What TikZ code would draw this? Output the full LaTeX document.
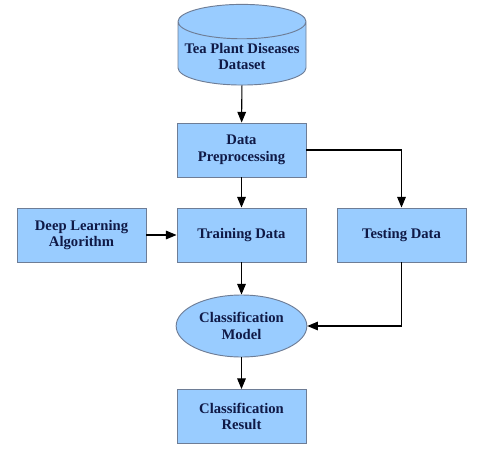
\documentclass[tikz,border=0pt]{standalone}
\usepackage{fontspec}
\setmainfont{Liberation Serif}
\newfontfamily\boxfont{Liberation Serif}
\usetikzlibrary{shapes.geometric,arrows.meta}
\definecolor{boxblue}{RGB}{153,204,255}
\definecolor{boxline}{RGB}{110,125,150}
\definecolor{textnavy}{RGB}{15,25,70}

\begin{document}
\begin{tikzpicture}
  [x=0.03cm,y=-0.03cm,>={Triangle[length=3.2mm,width=2.6mm]},
   font=\boxfont\fontsize{12.5}{14}\selectfont\bfseries]
      \tikzstyle{box_style} = [fill=boxblue, draw=boxline, line width=0.8pt, text=textnavy, align=center, minimum width=3.87cm, minimum height=1.62cm]
      \tikzstyle{edge_style} = [draw=black, line width=0.9pt, ->]
  \useasboundingbox (0,0) rectangle (485,452);
  \node[box_style, cylinder, shape border rotate=90, aspect=0.28, minimum width=3.84cm, minimum height=2.0cm] (n0) at (242, 56.5) {Tea Plant Diseases\\Dataset};
  \node[box_style] (n1) at (241.5, 150) {Data\\Preprocessing};
  \node[box_style] (n2) at (81.5, 235) {Deep Learning\\Algorithm};
  \node[box_style] (n3) at (241.5, 235) {Training Data};
  \node[box_style] (n4) at (401.5, 235) {Testing Data};
  \node[box_style, ellipse, minimum width=3.21cm, minimum height=1.86cm] (n5) at (241.5, 326) {Classification\\Model};
  \node[box_style] (n6) at (241.5, 416.5) {Classification\\Result};
  \draw[edge_style] (n0) -- (n1);
  \draw[edge_style] (n1) -- (n3);
  \draw[edge_style] (n2) -- (n3);
  \draw[edge_style] (n1.east) -| (n4.north);
  \draw[edge_style] (n3) -- (n5);
  \draw[edge_style] (n4.south) |- (n5.east);
  \draw[edge_style] (n5) -- (n6);
\end{tikzpicture}
\end{document}
